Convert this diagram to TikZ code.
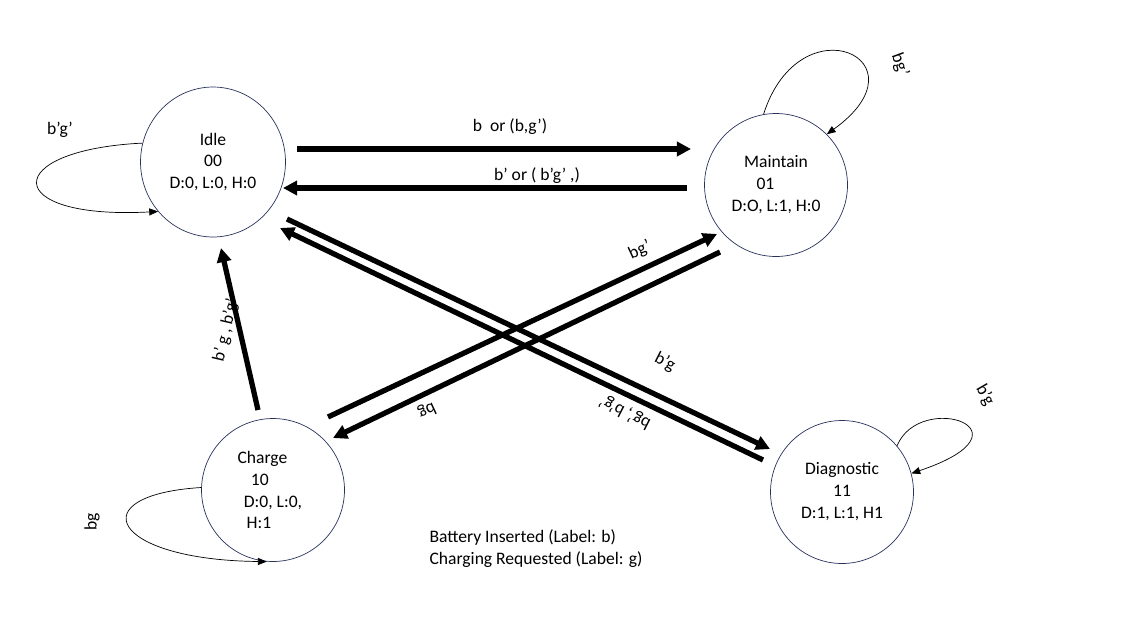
\documentclass[tikz,border=0pt]{standalone}
\usepackage{fontspec}
\setmainfont{Carlito}
\usetikzlibrary{arrows.meta,positioning,calc,shapes.geometric}
\definecolor{rimblue}{RGB}{40,50,90}

\begin{document}
\begin{tikzpicture}[x=0.02cm,y=-0.02cm,
    state/.style={draw=rimblue, circle, minimum size=2.86cm, align=center, inner sep=0pt},
    bold/.style={line width=3pt, -{Triangle[length=8pt,width=8pt]}},
    loop/.style={thin, -{Triangle[length=5pt,width=4pt]}},
    lbl/.style={font=\fontsize{10}{12.5}\selectfont}]
    \useasboundingbox (0,0) rectangle (1122,619);
    \fontsize{10}{12.5}\selectfont

    % States
    \node[state, ellipse, minimum width=2.9cm, minimum height=3cm] (idle) at (213,162) {Idle\\00\\D:0, L:0, H:0};
    \node[state] (maintain) at (776,185) {Maintain\\\hspace*{-1.2em}01\\D:O, L:1, H:0};
    \node[state] (charge) at (273,490) {\hspace*{-1.2em}Charge\\\hspace*{-1.5em}10\\D:0, L:0,\\\hspace*{-1.6em}H:1};
    \node[state] (diag) at (842,492) {Diagnostic\\11\\D:1, L:1, H1};

    % Connector ends
    \coordinate (im1) at (297,149);  \coordinate (im2) at (691,149);
    \coordinate (mi1) at (687,188);  \coordinate (mi2) at (283,188);
    \coordinate (id1) at (287,219);  \coordinate (id2) at (770,449);
    \coordinate (di1) at (763,460);  \coordinate (di2) at (280,228);
    \coordinate (cm1) at (328,417);  \coordinate (cm2) at (717,234);
    \coordinate (mc1) at (720,252);  \coordinate (mc2) at (333,438);
    \coordinate (ci1) at (258,410);  \coordinate (ci2) at (221,248);

    % Transitions
    \draw[bold] (im1) -- (im2);
    \draw[bold] (mi1) -- (mi2);
    \draw[bold] (id1) -- (id2);
    \draw[bold] (di1) -- (di2);
    \draw[bold] (cm1) -- (cm2);
    \draw[bold] (mc1) -- (mc2);
    \draw[bold] (ci1) -- (ci2);

    \node[lbl] (lim) at (510,127) {b\ \ or (b,g')};
    \node[lbl] (lmi) at (537,176) {b' or ( b'g' ,)};
    \node[lbl, rotate=-27] (lid) at (665,362) {b'g};
    \node[lbl, rotate=153] (ldi) at (625,412) {bg', b'g'};
    \node[lbl, rotate=25] (lcm) at (640,250) {bg'};
    \node[lbl, rotate=205] (lmc) at (427,410) {bg};
    \node[lbl, rotate=77] (lci) at (226,330) {b' g , b'g'};

    % Self loops
    \draw[loop] (idle.165) .. controls (0,150) and (0,220) .. (idle.222);
    \node[lbl] (lidle) at (60,130) {b'g'};
    \draw[loop] (maintain.100) .. controls (800,0) and (930,60) .. (maintain.45);
    \node[lbl, rotate=-70] (lmain) at (900,65) {bg'};
    \draw[loop] (charge.178) .. controls (80,495) and (110,560) .. (charge.265);
    \node[lbl, rotate=90] (lchg) at (92,522) {bg};
    \draw[loop] (diag.40) .. controls (920,390) and (1040,430) .. (diag.15);
    \node[lbl, rotate=-60] (ldiag) at (985,395) {b'g};

    % Legend
    \node[lbl, align=left] (legend) at (536,549) {Battery Inserted (Label: b)\\Charging Requested (Label: g)};
\end{tikzpicture}
\end{document}
